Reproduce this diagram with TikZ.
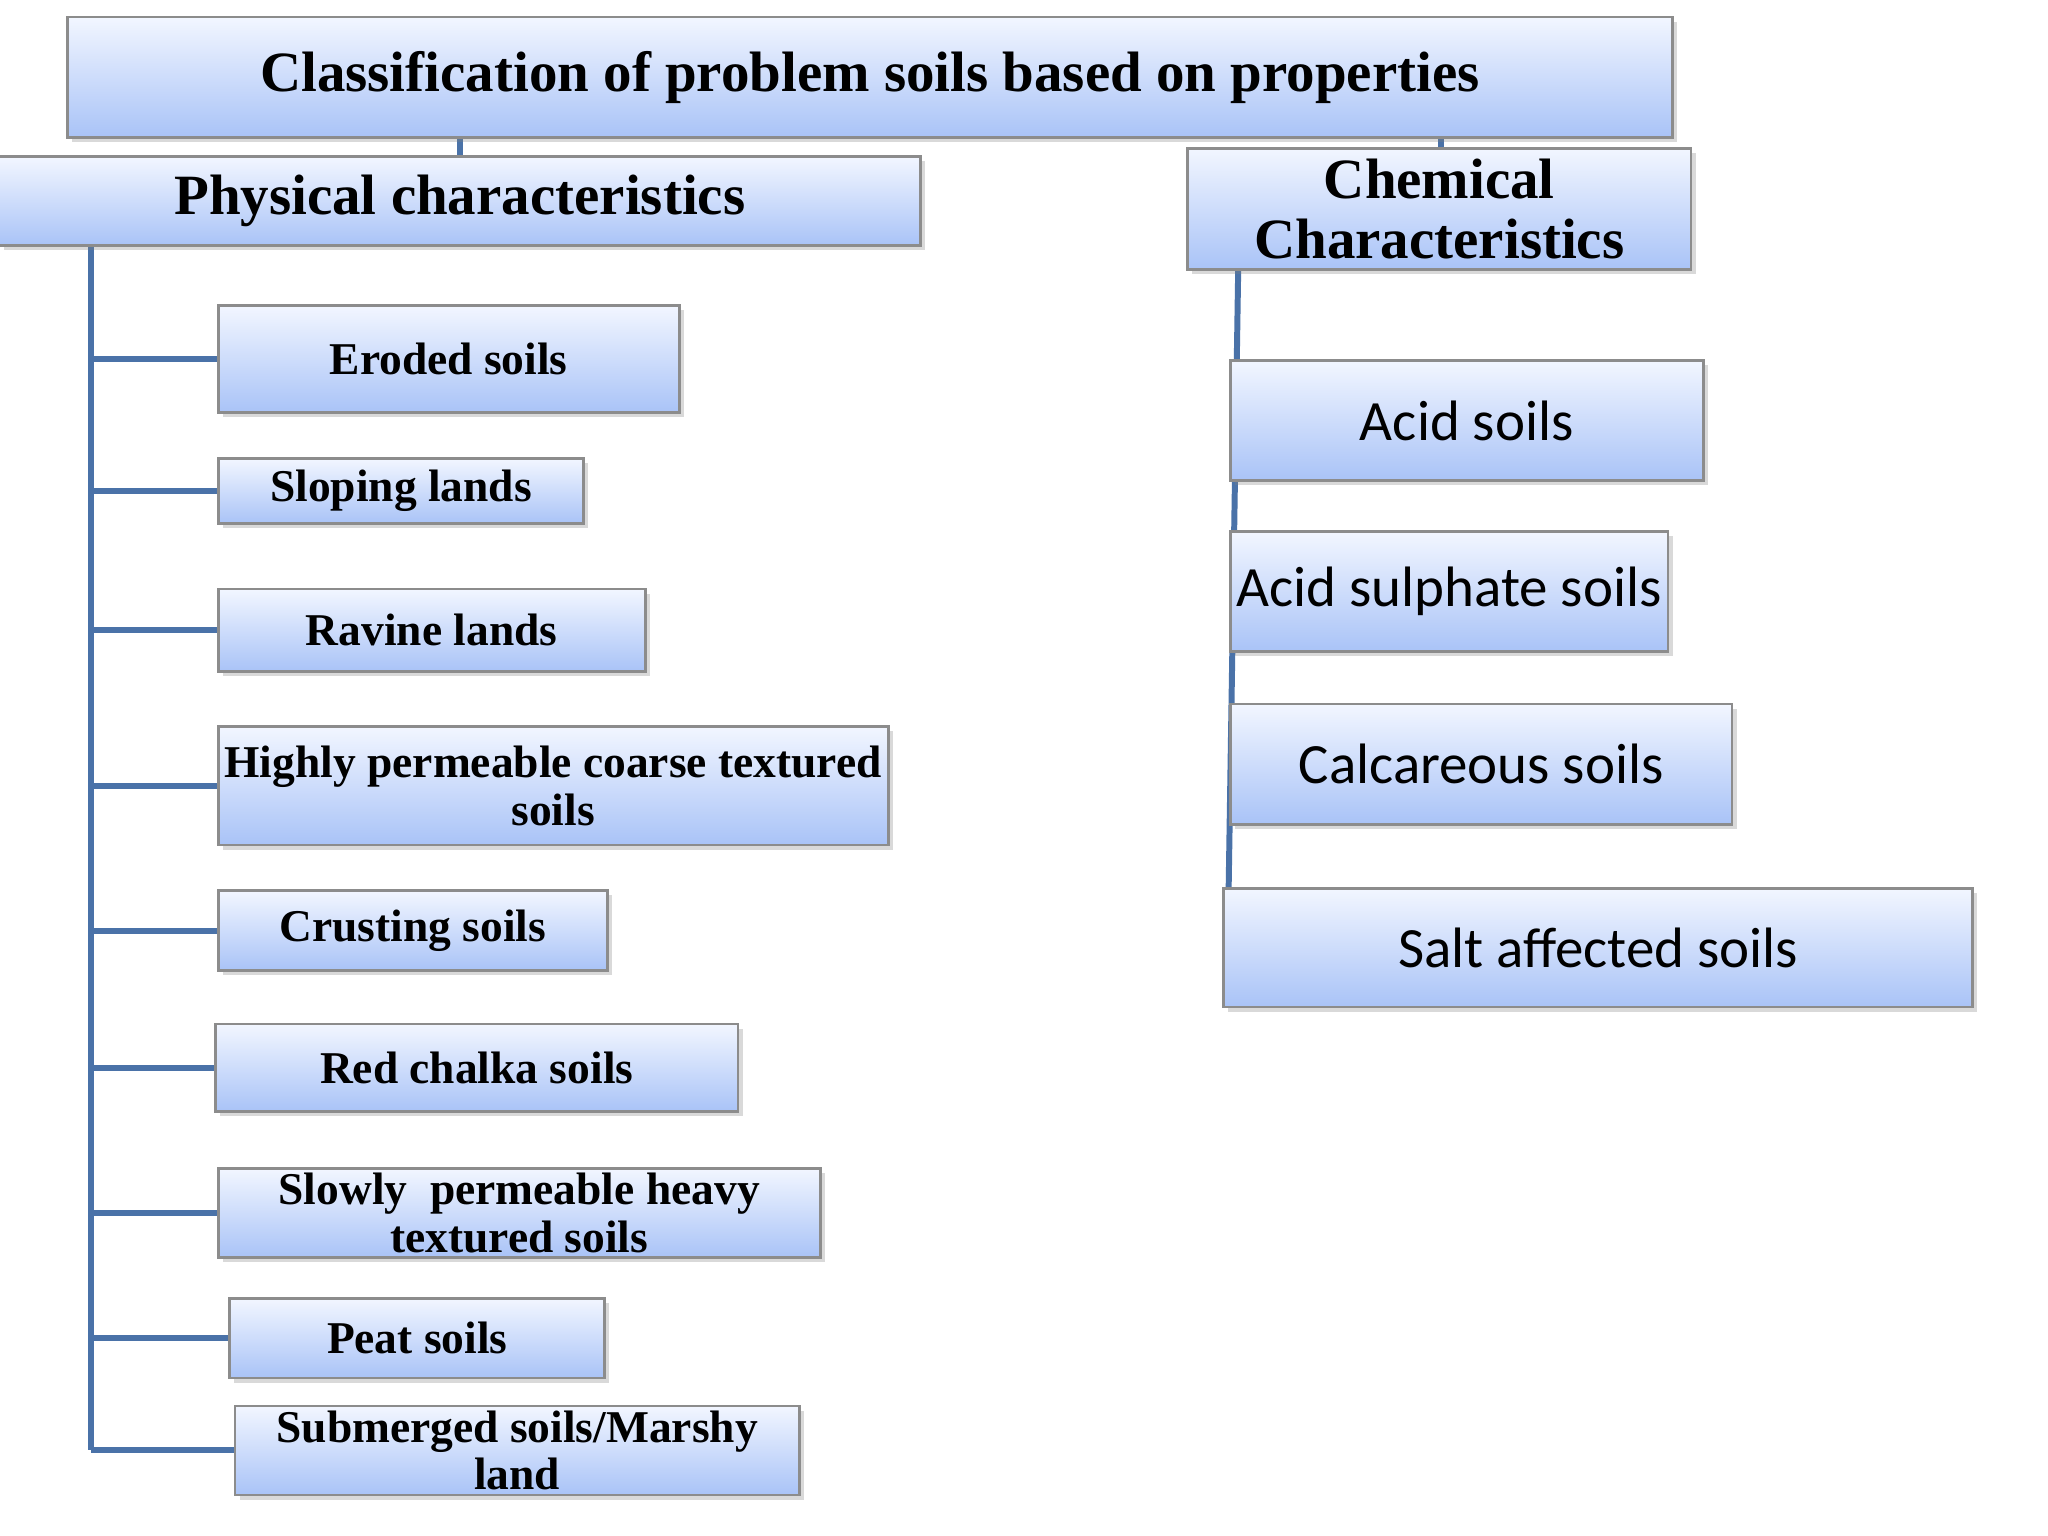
\documentclass[tikz,border=0pt]{standalone}
\usepackage{fontspec}
\setmainfont{Liberation Serif}
\newfontfamily\chemfont{Carlito}
\usetikzlibrary{positioning,shadows}
\definecolor{boxtop}{HTML}{F2F6FF}
\definecolor{boxbot}{HTML}{A9C3F7}
\definecolor{linkblue}{HTML}{4A72A8}
\tikzset{
  soilbox/.style={draw=black!45,line width=0.6pt,top color=boxtop,bottom color=boxbot,
    drop shadow={shadow xshift=1pt,shadow yshift=-1pt,opacity=0.3},
    inner sep=1pt,align=center},
  physbox/.style={soilbox,font=\fontsize{9.9}{10.4}\selectfont\bfseries},
  chembox/.style={soilbox,font=\chemfont\fontsize{12.4}{13}\selectfont},
  headfont/.style={font=\fontsize{12.4}{13}\selectfont\bfseries},
  link/.style={draw=linkblue,line width=1.3pt}
}
\begin{document}
\begin{tikzpicture}[x=0.01cm,y=-0.01cm]
  \useasboundingbox (0,0) rectangle (1568,1176);
  % links behind boxes
  \draw[link] (352,100) -- (352,125);
  \draw[link] (1103,100) -- (1103,118);
  \coordinate (ltop) at (70,188);
  \coordinate (lbot) at (70,1110);
  \draw[link] (ltop) -- (lbot);
  \coordinate (rtop) at (948,206);
  \coordinate (rbot) at (940,725);
  \draw[link] (rtop) -- (rbot);
  % top and headings
  \node[soilbox,headfont,minimum width=12.28cm,minimum height=0.92cm] (root) at (666,59)
    {Classification of problem soils based on properties};
  \node[soilbox,headfont,minimum width=7.05cm,minimum height=0.68cm] (phys) at (352,154)
    {Physical characteristics};
  \node[soilbox,headfont,minimum width=3.85cm,minimum height=0.93cm] (chem) at (1102,160)
    {Chemical\\Characteristics};
  % physical
  \foreach \name/\xl/\xr/\yt/\yb/\txt in {
      eroded/167/520/234/316/{Eroded soils},
      sloping/167/447/351/401/{Sloping lands},
      ravine/167/494/451/514/{Ravine lands},
      highly/167/680/556/647/{Highly permeable coarse textured\\soils},
      crusting/167/465/682/743/{Crusting soils},
      red/165/565/784/851/{Red chalka soils},
      slowly/167/628/896/961/{Slowly\ \ permeable heavy\\textured soils},
      peat/176/463/994/1055/{Peat soils},
      marshy/180/612/1077/1144/{Submerged soils/Marshy\\land}} {
    \node[physbox,minimum width={(\xr-\xl)*0.01cm},minimum height={(\yb-\yt)*0.01cm}]
      (\name) at ({(\xl+\xr)/2},{(\yt+\yb)/2}) {\txt};
    \draw[link] (\name.west -| ltop) -- (\name.west);
  }
  % chemical
  \foreach \name/\xl/\xr/\yt/\yb/\txt in {
      acid/942/1304/276/368/{Acid soils},
      sulphate/942/1277/407/499/{Acid sulphate soils},
      calc/942/1326/539/631/{Calcareous soils},
      salt/937/1510/680/771/{Salt affected soils}} {
    \node[chembox,minimum width={(\xr-\xl)*0.01cm},minimum height={(\yb-\yt)*0.01cm}]
      (\name) at ({(\xl+\xr)/2},{(\yt+\yb)/2}) {\txt};
  }
\end{tikzpicture}
\end{document}
